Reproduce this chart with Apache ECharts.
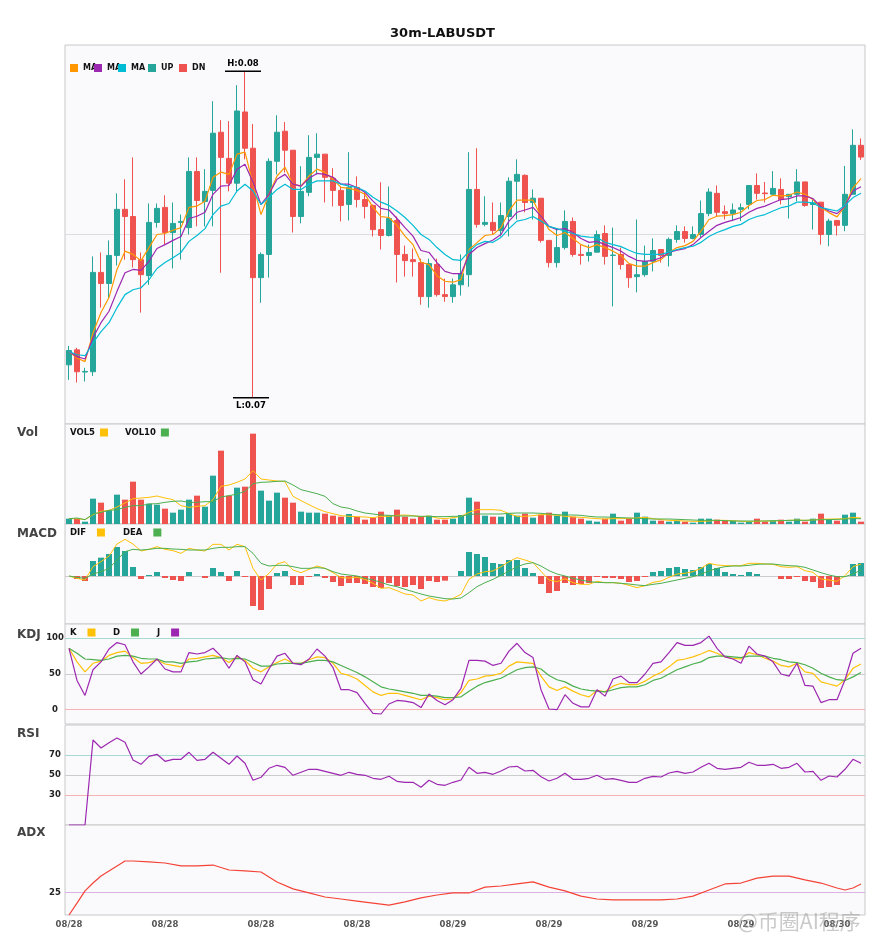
<!DOCTYPE html>
<html>
<head>
<meta charset="utf-8">
<title>30m-LABUSDT</title>
<script src="https://cdn.jsdelivr.net/npm/echarts@6/dist/echarts.min.js"></script>
<style>
  html, body { margin: 0; padding: 0; background: #fff; }
  #chart { width: 885px; height: 950px; }
</style>
</head>
<body>
<div id="chart"></div>
<script>
// 30 分钟 K 线
const times = [
  '08/28 00:00','08/28 00:30','08/28 01:00','08/28 01:30','08/28 02:00','08/28 02:30','08/28 03:00','08/28 03:30',
  '08/28 04:00','08/28 04:30','08/28 05:00','08/28 05:30','08/28 06:00','08/28 06:30','08/28 07:00','08/28 07:30',
  '08/28 08:00','08/28 08:30','08/28 09:00','08/28 09:30','08/28 10:00','08/28 10:30','08/28 11:00','08/28 11:30',
  '08/28 12:00','08/28 12:30','08/28 13:00','08/28 13:30','08/28 14:00','08/28 14:30','08/28 15:00','08/28 15:30',
  '08/28 16:00','08/28 16:30','08/28 17:00','08/28 17:30','08/28 18:00','08/28 18:30','08/28 19:00','08/28 19:30',
  '08/28 20:00','08/28 20:30','08/28 21:00','08/28 21:30','08/28 22:00','08/28 22:30','08/28 23:00','08/28 23:30',
  '08/29 00:00','08/29 00:30','08/29 01:00','08/29 01:30','08/29 02:00','08/29 02:30','08/29 03:00','08/29 03:30',
  '08/29 04:00','08/29 04:30','08/29 05:00','08/29 05:30','08/29 06:00','08/29 06:30','08/29 07:00','08/29 07:30',
  '08/29 08:00','08/29 08:30','08/29 09:00','08/29 09:30','08/29 10:00','08/29 10:30','08/29 11:00','08/29 11:30',
  '08/29 12:00','08/29 12:30','08/29 13:00','08/29 13:30','08/29 14:00','08/29 14:30','08/29 15:00','08/29 15:30',
  '08/29 16:00','08/29 16:30','08/29 17:00','08/29 17:30','08/29 18:00','08/29 18:30','08/29 19:00','08/29 19:30',
  '08/29 20:00','08/29 20:30','08/29 21:00','08/29 21:30','08/29 22:00','08/29 22:30','08/29 23:00','08/29 23:30',
  '08/30 00:00','08/30 00:30','08/30 01:00','08/30 01:30'
];

const opens = [
  0.07101,0.07147,0.07079,0.07080,0.07384,0.07350,0.07436,0.07577,0.07555,0.07423,
  0.07374,0.07537,0.07583,0.07506,0.07537,0.07521,0.07693,0.07601,0.07635,0.07813,
  0.07733,0.07657,0.07875,0.07764,0.07368,0.07439,0.07724,0.07816,0.07758,0.07555,
  0.07629,0.07736,0.07746,0.07672,0.07635,0.07592,0.07644,0.07607,0.07589,0.07515,
  0.07497,0.07543,0.07439,0.07423,0.07414,0.07310,0.07408,0.07316,0.07310,0.07346,
  0.07377,0.07638,0.07531,0.07537,0.07512,0.07555,0.07663,0.07681,0.07598,0.07611,
  0.07482,0.07414,0.07460,0.07540,0.07439,0.07436,0.07446,0.07503,0.07436,0.07439,
  0.07408,0.07371,0.07377,0.07418,0.07454,0.07436,0.07485,0.07509,0.07488,0.07500,
  0.07564,0.07626,0.07570,0.07564,0.07577,0.07592,0.07650,0.07627,0.07623,0.07638,
  0.07616,0.07623,0.07661,0.07592,0.07599,0.07500,0.07543,0.07528,0.07623,0.07773
];
const closes = [
  0.07145,0.07080,0.07081,0.07384,0.07350,0.07436,0.07577,0.07555,0.07423,0.07377,
  0.07537,0.07580,0.07506,0.07534,0.07540,0.07693,0.07604,0.07632,0.07810,0.07736,
  0.07657,0.07878,0.07764,0.07368,0.07439,0.07724,0.07813,0.07758,0.07555,0.07632,
  0.07736,0.07746,0.07675,0.07635,0.07589,0.07644,0.07607,0.07586,0.07515,0.07497,
  0.07549,0.07439,0.07420,0.07417,0.07310,0.07411,0.07316,0.07310,0.07346,0.07380,
  0.07638,0.07531,0.07537,0.07512,0.07558,0.07663,0.07684,0.07598,0.07611,0.07482,
  0.07414,0.07460,0.07540,0.07439,0.07436,0.07445,0.07500,0.07433,0.07437,0.07408,
  0.07368,0.07377,0.07418,0.07451,0.07436,0.07485,0.07509,0.07488,0.07500,0.07564,
  0.07630,0.07568,0.07564,0.07575,0.07582,0.07650,0.07626,0.07625,0.07641,0.07607,
  0.07623,0.07661,0.07589,0.07597,0.07500,0.07541,0.07528,0.07623,0.07773,0.07737
];
const lows = [
  0.07055,0.07047,0.07050,0.07067,0.07276,0.07304,0.07405,0.07423,0.07399,0.07261,
  0.07346,0.07521,0.07469,0.07396,0.07423,0.07500,0.07525,0.07525,0.07525,0.07383,
  0.07632,0.07629,0.07730,0.07000,0.07291,0.07368,0.07684,0.07690,0.07506,0.07534,
  0.07617,0.07684,0.07598,0.07586,0.07540,0.07543,0.07583,0.07549,0.07494,0.07454,
  0.07494,0.07353,0.07371,0.07371,0.07285,0.07276,0.07310,0.07294,0.07291,0.07313,
  0.07340,0.07521,0.07525,0.07500,0.07494,0.07494,0.07546,0.07568,0.07546,0.07475,
  0.07399,0.07399,0.07454,0.07432,0.07408,0.07417,0.07445,0.07408,0.07280,0.07393,
  0.07337,0.07323,0.07371,0.07387,0.07414,0.07402,0.07475,0.07475,0.07485,0.07491,
  0.07556,0.07556,0.07546,0.07541,0.07541,0.07577,0.07607,0.07598,0.07620,0.07592,
  0.07549,0.07602,0.07585,0.07515,0.07469,0.07464,0.07497,0.07510,0.07623,0.07728
];
const highs = [
  0.07159,0.07153,0.07092,0.07433,0.07445,0.07482,0.07626,0.07669,0.07736,0.07445,
  0.07595,0.07595,0.07620,0.07598,0.07561,0.07736,0.07736,0.07700,0.07908,0.07850,
  0.07847,0.07957,0.08000,0.07838,0.07445,0.07733,0.07865,0.07844,0.07758,0.07709,
  0.07804,0.07810,0.07746,0.07703,0.07647,0.07752,0.07678,0.07629,0.07592,0.07660,
  0.07647,0.07555,0.07466,0.07457,0.07426,0.07426,0.07426,0.07365,0.07365,0.07439,
  0.07752,0.07764,0.07617,0.07598,0.07598,0.07675,0.07730,0.07684,0.07638,0.07611,
  0.07482,0.07515,0.07574,0.07552,0.07469,0.07469,0.07512,0.07528,0.07521,0.07460,
  0.07408,0.07546,0.07466,0.07488,0.07454,0.07491,0.07528,0.07525,0.07525,0.07604,
  0.07641,0.07650,0.07589,0.07595,0.07595,0.07650,0.07687,0.07661,0.07694,0.07672,
  0.07623,0.07700,0.07661,0.07607,0.07599,0.07548,0.07543,0.07710,0.07822,0.07794
];

const ma5 = [
  0.07142,0.07122,0.07111,0.07199,0.07261,0.07307,0.07393,0.07449,0.07439,0.07420,
  0.07460,0.07500,0.07503,0.07513,0.07521,0.07583,0.07587,0.07602,0.07675,0.07691,
  0.07684,0.07746,0.07752,0.07654,0.07561,0.07623,0.07679,0.07706,0.07654,0.07648,
  0.07679,0.07700,0.07690,0.07669,0.07644,0.07641,0.07635,0.07623,0.07583,0.07555,
  0.07552,0.07528,0.07495,0.07469,0.07415,0.07408,0.07374,0.07357,0.07354,0.07362,
  0.07454,0.07475,0.07497,0.07500,0.07521,0.07572,0.07605,0.07605,0.07605,0.07556,
  0.07515,0.07497,0.07506,0.07488,0.07469,0.07460,0.07469,0.07460,0.07449,0.07436,
  0.07411,0.07403,0.07403,0.07414,0.07423,0.07445,0.07460,0.07466,0.07479,0.07510,
  0.07546,0.07556,0.07558,0.07561,0.07568,0.07589,0.07604,0.07607,0.07620,0.07618,
  0.07620,0.07630,0.07623,0.07607,0.07582,0.07567,0.07554,0.07587,0.07643,0.07671
];
const ma10 = [
  0.07142,0.07126,0.07119,0.07184,0.07230,0.07265,0.07326,0.07383,0.07393,0.07390,
  0.07418,0.07457,0.07469,0.07482,0.07494,0.07549,0.07556,0.07568,0.07623,0.07648,
  0.07650,0.07700,0.07715,0.07660,0.07592,0.07623,0.07669,0.07684,0.07654,0.07648,
  0.07672,0.07687,0.07684,0.07675,0.07654,0.07654,0.07644,0.07629,0.07602,0.07580,
  0.07575,0.07549,0.07521,0.07495,0.07451,0.07445,0.07414,0.07387,0.07380,0.07380,
  0.07439,0.07460,0.07472,0.07483,0.07500,0.07541,0.07568,0.07575,0.07583,0.07556,
  0.07525,0.07515,0.07518,0.07506,0.07488,0.07476,0.07479,0.07469,0.07460,0.07449,
  0.07433,0.07421,0.07418,0.07421,0.07429,0.07445,0.07452,0.07457,0.07469,0.07491,
  0.07510,0.07528,0.07537,0.07544,0.07552,0.07568,0.07580,0.07587,0.07597,0.07607,
  0.07610,0.07618,0.07618,0.07610,0.07585,0.07572,0.07564,0.07587,0.07633,0.07646
];
const ma20 = [
  0.07142,0.07132,0.07129,0.07168,0.07203,0.07230,0.07276,0.07316,0.07331,0.07337,
  0.07362,0.07396,0.07414,0.07429,0.07445,0.07479,0.07497,0.07518,0.07561,0.07587,
  0.07595,0.07633,0.07654,0.07633,0.07592,0.07614,0.07638,0.07654,0.07638,0.07638,
  0.07654,0.07664,0.07664,0.07664,0.07654,0.07648,0.07644,0.07633,0.07614,0.07599,
  0.07589,0.07572,0.07552,0.07528,0.07500,0.07485,0.07460,0.07439,0.07423,0.07421,
  0.07449,0.07469,0.07479,0.07476,0.07491,0.07518,0.07541,0.07546,0.07555,0.07541,
  0.07525,0.07518,0.07510,0.07503,0.07495,0.07492,0.07491,0.07476,0.07469,0.07463,
  0.07452,0.07442,0.07439,0.07439,0.07439,0.07446,0.07454,0.07460,0.07464,0.07476,
  0.07494,0.07506,0.07515,0.07525,0.07531,0.07546,0.07555,0.07561,0.07572,0.07582,
  0.07587,0.07599,0.07599,0.07597,0.07582,0.07577,0.07572,0.07589,0.07613,0.07626
];

// 成交量（千）
const volumes = [
  16,16,7,76,64,41,88,73,127,73, 61,58,46,34,43,73,85,52,145,220,
  85,109,112,271,100,70,94,79,64,37, 34,34,31,25,22,30,22,13,19,37,
  25,43,22,16,23,25,13,13,16,27, 79,67,25,22,22,31,25,31,19,28,
  34,25,37,22,16,10,7,16,31,10, 16,34,22,10,10,7,10,7,4,16,
  16,13,10,10,4,7,16,7,10,13, 7,16,7,16,31,13,10,28,34,7
];
const vol5 = [
  16,16,13,28,38,41,51,63,76,78, 80,84,78,73,55,50,53,55,73,113,
  117,125,135,160,135,132,129,127,83,70, 58,46,37,31,25,23,22,21,19,23,
  23,26,27,25,22,24,18,16,19,23, 35,43,43,43,41,31,23,23,25,28,
  28,26,23,21,20,18,16,15,16,16, 17,18,20,16,13,11,10,9,8,8,
  9,11,11,10,8,7,8,9,9,10, 11,12,11,12,14,15,15,16,20,18
];
const vol10 = [
  16,18,13,30,35,41,43,50,55,55, 60,61,65,68,69,65,65,67,67,81,
  85,90,98,121,125,126,128,129,117,103, 97,91,83,61,51,47,39,33,30,27,
  26,24,24,24,23,23,22,22,23,23, 29,30,30,30,30,32,33,33,33,32,
  30,28,27,27,26,23,21,21,20,19, 18,17,16,15,15,15,14,13,12,11,
  11,11,10,9,9,9,9,9,10,10, 11,11,11,12,13,13,14,15,16,16
];

// MACD（×1e-6）
const macdHist = [
  0,-9,-15,45,55,66,87,75,27,-9, 3,12,-6,-12,-15,12,0,-6,24,12,
  -15,15,-3,-90,-102,-39,9,15,-27,-27, -3,6,-6,-18,-30,-21,-21,-24,-33,-36,
  -21,-30,-33,-27,-39,-15,-18,-14,0,15, 72,66,57,39,36,48,48,24,9,-24,
  -51,-45,-21,-27,-24,-21,-3,-6,-6,-9, -18,-15,-3,12,15,24,27,21,18,27,
  36,24,12,6,3,12,6,0,0,-9, -9,-3,-15,-18,-36,-33,-27,0,36,39
];
const dif = [
  0,-7,-12,28,43,60,96,110,96,75, 80,88,80,76,68,83,78,75,95,95,
  78,95,88,23,-12,8,36,43,18,10, 20,30,23,10,-5,-6,-4,-10,-22,-37,
  -35,-44,-54,-57,-75,-65,-72,-75,-67,-55, -10,6,13,15,28,43,55,48,40,14,
  -12,-17,-8,-20,-25,-25,-16,-20,-20,-22, -28,-35,-29,-19,-15,-4,6,8,13,23,
  38,33,31,31,31,38,38,36,35,28, 26,28,16,11,-9,-12,-16,1,28,36
];
const dea = [
  0,-4,-7,6,13,23,48,73,80,78, 80,83,83,81,80,78,78,78,83,86,
  86,88,88,68,38,30,32,32,28,23, 23,25,23,13,6,3,0,-7,-12,-19,
  -27,-32,-40,-47,-54,-60,-64,-68,-69,-66, -50,-32,-20,-10,2,15,28,36,40,30,
  16,6,0,-7,-12,-17,-19,-20,-20,-22, -24,-27,-29,-25,-22,-17,-12,-7,-2,6,
  15,23,28,30,30,32,35,36,36,33, 31,30,26,18,10,3,-2,-2,6,18
];

const kLine = [
  86,67,53,65,68,76,80,82,73,65, 66,70,64,62,60,71,72,74,76,73,
  66,74,69,58,53,60,66,71,65,65, 70,74,73,65,51,48,43,34,25,20,
  23,23,20,17,14,19,17,14,15,24, 41,43,47,48,51,61,67,66,65,47,
  32,27,32,26,21,18,27,25,33,37, 35,35,40,47,52,60,69,71,74,78,
  83,79,74,72,71,80,77,72,68,62, 60,65,53,51,39,36,33,42,58,64
];
const dLine = [
  86,79,71,70,69,71,75,76,75,72, 71,71,67,67,65,67,68,71,72,73,
  71,72,71,66,61,61,64,65,65,65, 67,69,69,67,62,57,52,46,39,32,
  29,27,25,23,20,20,19,17,17,18, 26,33,38,41,44,50,56,59,60,57,
  48,42,39,33,29,27,26,25,28,31, 32,32,35,41,44,50,56,60,64,67,
  73,75,75,74,73,75,75,75,72,70, 67,66,63,58,51,46,42,41,46,52
];
const jLine = [
  86,41,20,56,67,85,94,91,67,50, 60,71,57,53,53,80,78,80,86,75,
  58,76,67,42,36,57,75,79,65,63, 71,85,75,59,28,28,24,9,-5,-6,
  8,13,12,10,3,22,13,7,14,30, 69,69,68,62,65,82,93,80,73,28,
  1,0,21,9,4,4,28,19,43,47, 38,38,50,65,67,80,94,90,90,94,
  103,86,74,71,65,89,78,75,67,50, 47,65,34,33,10,14,14,42,79,86
];

const rsi = [
  0,0,0,85,77,82.3,87,82.7,65,60.7, 68.7,70.7,63.7,65.7,65.7,72.7,64.7,65.7,72.7,66.7,
  60.7,69,61.7,44.7,47.7,56.7,59.7,57.7,49.7,52.7, 55.7,55.7,53.7,51.7,49.7,52.7,50.7,49.7,46.7,45.7,
  48.7,43.7,42.7,42.7,37.7,44.7,40.7,39.7,42.7,45, 57.7,51.7,52.7,50.7,54,58,58.7,54,54.7,48.3,
  44,46.7,51.7,45.7,45.7,46.7,49.7,45.7,46.3,44.7, 42.7,42.7,46.7,48.7,48,52,53.7,51.7,53,57.7,
  61.7,56.7,55.7,56.7,57.7,62.7,59.7,59.7,60.7,56.7, 57.7,61.7,53,53.7,44.7,49,48,55.7,65.7,61.7
];

// ADX 读数 [K 线序号, 值]
const adxPoints = [
  [0,15],[1,20.3],[2,25.7],[3,29.2],[4,32.3],[5,34.6],[6,36.8],[7,39],[8,39],[10,38.6],
  [12,38.1],[14,36.8],[16,36.8],[18,37.2],[20,35],[22,34.6],[24,34.1],[26,29.7],[28,26.6],[30,24.8],
  [32,23],[34,22.1],[36,21.2],[38,20.3],[40,19.4],[42,20.8],[44,22.6],[46,23.9],[48,24.8],[50,24.8],
  [52,27.4],[54,27.9],[56,28.8],[58,29.7],[60,27.4],[62,25.7],[64,23.4],[66,22.1],[68,21.7],[70,21.7],
  [72,21.7],[74,21.7],[76,22.1],[78,23.4],[80,26.1],[82,28.8],[84,29.2],[86,31.4],[88,32.3],[90,32.3],
  [92,30.6],[94,29.2],[96,27],[97,26.1],[98,27],[99,28.8]
];

const UP = '#26a69a';
const DN = '#ef5350';
const YELLOW = '#ffc107';
const GREEN = '#4caf50';
const PURPLE = '#9c27b0';

const candleData = opens.map((o, i) => [o, closes[i], lows[i], highs[i]]);
const volData = volumes.map((v, i) => ({ value: v, itemStyle: { color: closes[i] >= opens[i] ? UP : DN } }));
const histData = macdHist.map(v => ({ value: v, itemStyle: { color: v >= 0 ? UP : DN } }));

// 六个面板的位置
const panels = [[45, 379], [424, 100], [524, 100], [624, 100], [725, 100], [825, 90]];

const grids = panels.map(p => ({
  left: 65, width: 800, top: p[0], height: p[1],
  show: true, borderColor: '#c8c8c8', borderWidth: 1, backgroundColor: '#fafafc',
  outerBoundsMode: 'none'
}));

const xAxes = panels.map((p, i) => ({
  type: 'category', gridIndex: i, data: times, boundaryGap: true,
  axisLine: { show: false }, axisTick: { show: false }, splitLine: { show: false },
  axisLabel: i === 5 ? {
    show: true, interval: 11, margin: 5, color: '#555', fontSize: 8.5, fontWeight: 'bold',
    formatter: v => v.slice(0, 5)
  } : { show: false }
}));

function levelLabels(levels) {
  return {
    show: true, align: 'center', margin: 10, color: '#222', fontSize: 8.5, fontWeight: 'bold',
    formatter: v => levels.indexOf(v) >= 0 ? String(v) : ''
  };
}

const plainY = { axisLine: { show: false }, axisTick: { show: false }, splitLine: { show: false } };
const yAxes = [
  Object.assign({ type: 'value', gridIndex: 0, min: 0.0692, max: 0.0808, axisLabel: { show: false } }, plainY),
  Object.assign({ type: 'value', gridIndex: 1, min: 0, max: 300, axisLabel: { show: false } }, plainY),
  Object.assign({ type: 'value', gridIndex: 2, min: -144, max: 156, axisLabel: { show: false } }, plainY),
  Object.assign({ type: 'value', gridIndex: 3, min: -20, max: 120, interval: 10, axisLabel: levelLabels([0, 50, 100]) }, plainY),
  Object.assign({ type: 'value', gridIndex: 4, min: 0, max: 100, interval: 10, axisLabel: levelLabels([30, 50, 70]) }, plainY),
  Object.assign({ type: 'value', gridIndex: 5, min: 15, max: 55, interval: 5, axisLabel: levelLabels([25]) }, plainY)
];

// 水平参考线（precision 要够，否则 0.075 会被取整）
function guide(lines) {
  return {
    silent: true, symbol: 'none', z: 1, animation: false, precision: 6,
    label: { show: false },
    lineStyle: { width: 1, type: 'solid' },
    data: lines.map(l => ({ yAxis: l[0], lineStyle: { color: l[1], width: 1, type: 'solid' } }))
  };
}

function line(name, data, color, idx, width) {
  return {
    name: name, type: 'line', data: data, xAxisIndex: idx, yAxisIndex: idx,
    color: color, symbol: 'none', smooth: false,
    lineStyle: { color: color, width: width || 1.2 }
  };
}

// 单项图例，按位置摆放
function legendItem(name, left, top, iconRight, pad, z, label) {
  return {
    data: [name], left: left, top: top, padding: 0, z: z,
    orient: 'horizontal', align: iconRight ? 'right' : 'left',
    icon: 'rect', itemWidth: 8, itemHeight: 8, selectedMode: false,
    textStyle: { fontSize: label ? 8 : 8.5, fontWeight: 'bold', color: '#111' },
    formatter: n => (label || n) + (pad ? '\u00a0\u00a0' : '')
  };
}

function panelTitle(text, top) {
  return { text: text, left: 17, top: top, padding: 0, textStyle: { fontSize: 12, fontWeight: 'bold', color: '#444' } };
}

const option = {
  animation: false,
  backgroundColor: '#fff',
  textStyle: { fontFamily: 'DejaVu Sans' },
  title: [
    { text: '30m-LABUSDT', left: 'center', top: 27, padding: 0, textStyle: { fontSize: 13, fontWeight: 'bold', color: '#111' } },
    panelTitle('Vol', 427),
    panelTitle('MACD', 528),
    panelTitle('KDJ', 629),
    panelTitle('RSI', 728),
    panelTitle('ADX', 827)
  ],
  legend: [
    legendItem('MA5', 70, 64, false, false, 10, 'MA'),
    legendItem('MA10', 94, 64, false, false, 11, 'MA'),
    legendItem('MA20', 118, 64, false, false, 12, 'MA'),
    legendItem('UP', 148, 64, false, false, 13, 'UP'),
    legendItem('DN', 179, 64, false, false, 14, 'DN'),
    legendItem('VOL5', 70, 428, true, false, 10),
    legendItem('VOL10', 125, 428, true, false, 10),
    legendItem('DIF', 70, 528, true, true, 10),
    legendItem('DEA', 123, 528, true, true, 10),
    legendItem('K', 70, 628, true, true, 10),
    legendItem('D', 113, 628, true, true, 10),
    legendItem('J', 157, 628, true, true, 10)
  ],
  grid: grids,
  xAxis: xAxes,
  yAxis: yAxes,
  graphic: [
    {
      type: 'text', left: 738, top: 911, silent: true, z: 100,
      style: { text: '@币圈AI程序', font: '21px "Noto Sans CJK SC"', fill: 'rgba(150,150,150,0.5)' }
    }
  ],
  series: [
    {
      name: 'LABUSDT', type: 'candlestick', data: candleData, xAxisIndex: 0, yAxisIndex: 0,
      barWidth: 6,
      itemStyle: { color: UP, color0: DN, borderColor: UP, borderColor0: DN, borderWidth: 1 },
      markPoint: {
        symbol: 'rect', symbolSize: [36, 1.5], symbolOffset: [-2, 0], silent: true, precision: 6,
        itemStyle: { color: '#000' },
        label: {
          show: true, color: '#000', fontSize: 8.5, fontWeight: 'bold',
          formatter: p => (p.data.type === 'max' ? 'H:' : 'L:') + p.value.toFixed(2)
        },
        data: [
          { type: 'max', valueDim: 'highest', label: { position: 'top', distance: 2 } },
          { type: 'min', valueDim: 'lowest', label: { position: 'bottom', distance: 3 } }
        ]
      }
    },
    Object.assign(line('MA5', ma5, '#ff9800', 0), { markLine: guide([[0.075, '#dddddd']]) }),
    line('MA10', ma10, PURPLE, 0),
    line('MA20', ma20, '#00bcd4', 0),
    line('UP', [], UP, 0),
    line('DN', [], DN, 0),

    { name: 'Vol', type: 'bar', data: volData, xAxisIndex: 1, yAxisIndex: 1, barWidth: 6 },
    line('VOL5', vol5, YELLOW, 1, 1),
    line('VOL10', vol10, GREEN, 1, 1),

    {
      name: 'MACD', type: 'bar', data: histData, xAxisIndex: 2, yAxisIndex: 2, barWidth: 6,
      markLine: guide([[0, '#cccccc']])
    },
    line('DIF', dif, YELLOW, 2, 1),
    line('DEA', dea, GREEN, 2, 1),

    Object.assign(line('K', kLine, YELLOW, 3), {
      markLine: guide([[100, '#a6dad3'], [50, '#cccccc'], [0, '#f6b3b3']])
    }),
    line('D', dLine, GREEN, 3),
    line('J', jLine, PURPLE, 3),

    Object.assign(line('RSI', rsi, PURPLE, 4), {
      markLine: guide([[70, '#a6dad3'], [50, '#cccccc'], [30, '#f6b3b3']])
    }),

    Object.assign(line('ADX', adxPoints, '#f44336', 5), {
      markLine: guide([[25, '#dcb2e4']])
    })
  ]
};

const chart = echarts.init(document.getElementById('chart'));
chart.setOption(option);
</script>
</body>
</html>
